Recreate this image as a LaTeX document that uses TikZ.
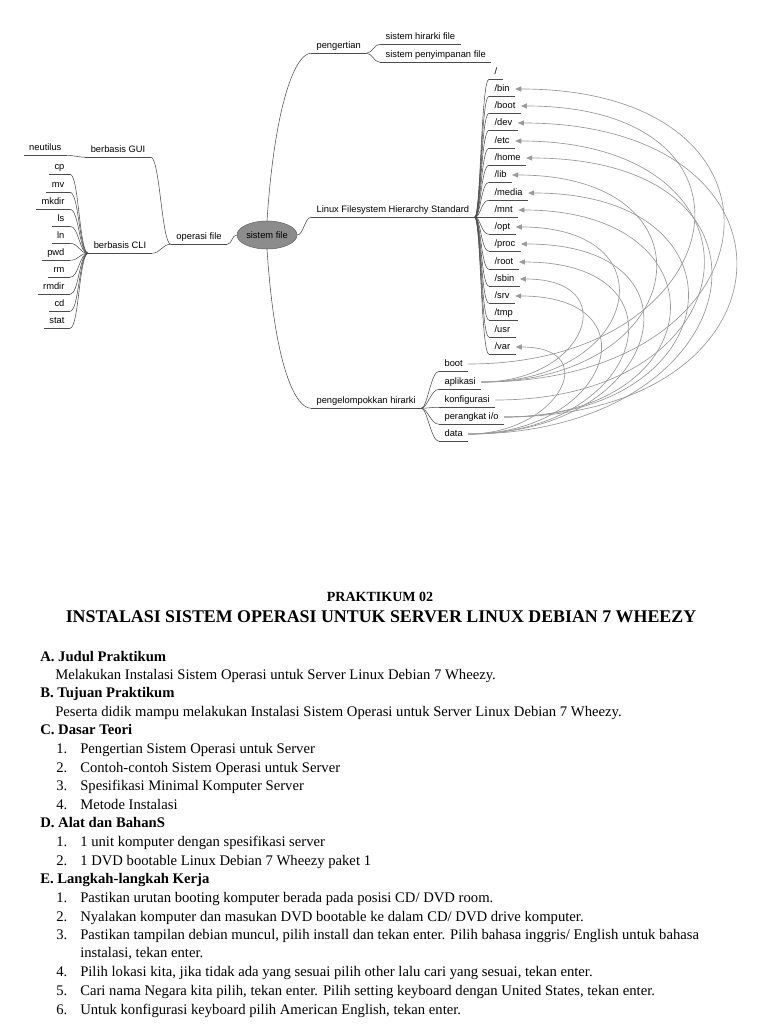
\documentclass[tikz,border=0pt]{standalone}
\usepackage{fontspec}
\setmainfont{Liberation Serif}
\newfontfamily\petafont{Liberation Sans}
\usetikzlibrary{positioning, shapes, arrows.meta}

\newcommand{\nomor}[1]{\makebox[18pt][l]{#1}}

\tikzstyle{cabang} = [draw=black!70, line width=0.4pt]
\tikzstyle{topik}  = [font=\petafont\fontsize{7}{8}\selectfont, inner xsep=4pt, inner ysep=2pt, text height=5pt, text depth=1.5pt,
                      append after command={(\tikzlastnode.south west) edge[cabang] (\tikzlastnode.south east)}]
\tikzstyle{pusat}  = [ellipse, draw=black!60, fill=black!45, minimum width=45pt, minimum height=21pt, inner sep=0pt, font=\petafont\fontsize{7}{8}\selectfont]
\tikzstyle{tautan} = [draw=black!40, line width=0.5pt, -{Triangle[length=4.5pt, width=3.8pt]}]
\tikzstyle{judul}  = [font=\bfseries\fontsize{13.4}{16}\selectfont, inner sep=0pt]
\tikzstyle{sub}    = [font=\bfseries\fontsize{10.5}{12}\selectfont, inner sep=0pt]
\tikzstyle{bagian} = [anchor=west, font=\bfseries\fontsize{11}{13}\selectfont, inner sep=0pt, text height=7.5pt, text depth=2.5pt]
\tikzstyle{isi}    = [anchor=west, font=\fontsize{11}{13}\selectfont, inner sep=0pt, text height=7.5pt, text depth=2.5pt]

\begin{document}
\begin{tikzpicture}[x=0.75pt, y=-0.75pt]
    \useasboundingbox (0,0) rectangle (768,1024);
    \fill[white] (0,0) rectangle (768,1024);

    % peta konsep: pusat
    \node [pusat] (pusat) at (267,235) {sistem file};

    % cabang kiri: operasi file
    \node [topik] (operasi) at (199,237) {operasi file};
    \node [topik] (gui) at (118,150) {berbasis GUI};
    \node [topik] (cli) at (120,246) {berbasis CLI};
    \node [topik, anchor=east] (neutilus) at (67,148) {neutilus};
    \foreach \perintah/\ypos in {cp/167, mv/185, mkdir/202, ls/219, ln/236, pwd/253, rm/270, rmdir/287, cd/304, stat/321}
        \node [topik, anchor=east] (c-\perintah) at (70,\ypos) {\perintah};

    % cabang kanan
    \node [topik, anchor=west] (pengertian) at (311,46) {pengertian};
    \node [topik, anchor=west] (hirarki) at (380,37) {sistem hirarki file};
    \node [topik, anchor=west] (simpan) at (380,55) {sistem penyimpanan file};
    \node [topik, anchor=west] (fhs) at (311,210) {Linux Filesystem Hierarchy Standard};
    \node [topik, anchor=west] (kelompok) at (311,401) {pengelompokkan hirarki};

    % direktori FHS
    \node [topik, anchor=west] (d-akar) at (489,72) {/};
    \foreach \dir/\ypos in {bin/89, boot/106, dev/123, etc/141, home/158, lib/175, media/193, mnt/210, opt/227,
                            proc/244, root/262, sbin/279, srv/296, tmp/313, usr/330, var/347}
        \node [topik, anchor=west] (d-\dir) at (489,\ypos) {/\dir};

    % kelompok hirarki
    \foreach \kat/\teks/\ypos in {boot/boot/364, aplikasi/aplikasi/382, konfigurasi/konfigurasi/400, io/{perangkat i/o}/417, data/data/434}
        \node [topik, anchor=west] (k-\kat) at (439,\ypos) {\teks};

    % garis cabang
    \draw [cabang] (pusat.west) .. controls +(-5,0) and +(5,0) .. (operasi.south east);
    \draw [cabang] (operasi.south west) .. controls +(-9,0) and +(9,0) .. (gui.south east);
    \draw [cabang] (operasi.south west) .. controls +(-9,0) and +(9,0) .. (cli.south east);
    \draw [cabang] (gui.south west) .. controls +(-6,0) and +(6,0) .. (neutilus.south east);
    \foreach \perintah in {cp, mv, mkdir, ls, ln, pwd, rm, rmdir, cd, stat}
        \draw [cabang] (cli.south west) .. controls +(-9,0) and +(9,0) .. (c-\perintah.south east);

    \draw [cabang] (pusat.north) .. controls +(8,-120) and +(-15,0) .. (pengertian.south west);
    \draw [cabang] (pusat.east) .. controls +(6,0) and +(-6,0) .. (fhs.south west);
    \draw [cabang] (pusat.south) .. controls +(8,120) and +(-15,0) .. (kelompok.south west);
    \draw [cabang] (pengertian.south east) .. controls +(6,0) and +(-6,0) .. (hirarki.south west);
    \draw [cabang] (pengertian.south east) .. controls +(6,0) and +(-6,0) .. (simpan.south west);
    \foreach \dir in {akar, bin, boot, dev, etc, home, lib, media, mnt, opt, proc, root, sbin, srv, tmp, usr, var}
        \draw [cabang] (fhs.south east) .. controls +(6,0) and +(-8,0) .. (d-\dir.south west);
    \foreach \kat in {boot, aplikasi, konfigurasi, io, data}
        \draw [cabang] (kelompok.south east) .. controls +(6,0) and +(-8,0) .. (k-\kat.south west);

    % tautan kelompok ke direktori
    \foreach \kat/\dir/\jarak in {boot/boot/263, aplikasi/bin/299, aplikasi/sbin/105, aplikasi/lib/211, aplikasi/opt/158,
                                  konfigurasi/etc/264, io/dev/300, io/media/228, io/mnt/211,
                                  data/home/282, data/root/175, data/srv/141, data/var/89, data/proc/194}
        \draw [tautan] (k-\kat.east) .. controls +(\jarak,0) and +(\jarak,0) .. (d-\dir.east);

    % teks praktikum
    \node [sub] (praktikum) at (380,597) {PRAKTIKUM 02};
    \node [judul] (judul) at (381,617) {INSTALASI SISTEM OPERASI UNTUK SERVER LINUX DEBIAN 7 WHEEZY};

    \node [bagian] (a) at (40,658) {A. Judul Praktikum};
    \node [isi] (a-isi) at (55,676) {Melakukan Instalasi Sistem Operasi untuk Server Linux Debian 7 Wheezy.};
    \node [bagian] (b) at (40,694) {B. Tujuan Praktikum};
    \node [isi] (b-isi) at (55,713) {Peserta didik mampu melakukan Instalasi Sistem Operasi untuk Server Linux Debian 7 Wheezy.};
    \node [bagian] (c) at (40,731) {C. Dasar Teori};
    \node [isi] (c1) at (56,750) {\nomor{1.}Pengertian Sistem Operasi untuk Server};
    \node [isi] (c2) at (56,769) {\nomor{2.}Contoh-contoh Sistem Operasi untuk Server};
    \node [isi] (c3) at (56,787) {\nomor{3.}Spesifikasi Minimal Komputer Server};
    \node [isi] (c4) at (56,806) {\nomor{4.}Metode Instalasi};
    \node [bagian] (d) at (40,824) {D. Alat dan BahanS};
    \node [isi] (d1) at (56,843) {\nomor{1.}1 unit komputer dengan spesifikasi server};
    \node [isi] (d2) at (56,862) {\nomor{2.}1 DVD bootable Linux Debian 7 Wheezy paket 1};
    \node [bagian] (e) at (40,880) {E. Langkah-langkah Kerja};
    \node [isi] (e1) at (56,899) {\nomor{1.}Pastikan urutan booting komputer berada pada posisi CD/ DVD room.};
    \node [isi] (e2) at (56,918) {\nomor{2.}Nyalakan komputer dan masukan DVD bootable ke dalam CD/ DVD drive komputer.};
    \node [isi] (e3) at (56,936) {\nomor{3.}Pastikan tampilan debian muncul, pilih install dan tekan enter. Pilih bahasa inggris/ English untuk bahasa};
    \node [isi] (e3b) at (80,954) {instalasi, tekan enter.};
    \node [isi] (e4) at (56,973) {\nomor{4.}Pilih lokasi kita, jika tidak ada yang sesuai pilih other lalu cari yang sesuai, tekan enter.};
    \node [isi] (e5) at (56,992) {\nomor{5.}Cari nama Negara kita pilih, tekan enter. Pilih setting keyboard dengan United States, tekan enter.};
    \node [isi] (e6) at (56,1011) {\nomor{6.}Untuk konfigurasi keyboard pilih American English, tekan enter.};
\end{tikzpicture}
\end{document}
